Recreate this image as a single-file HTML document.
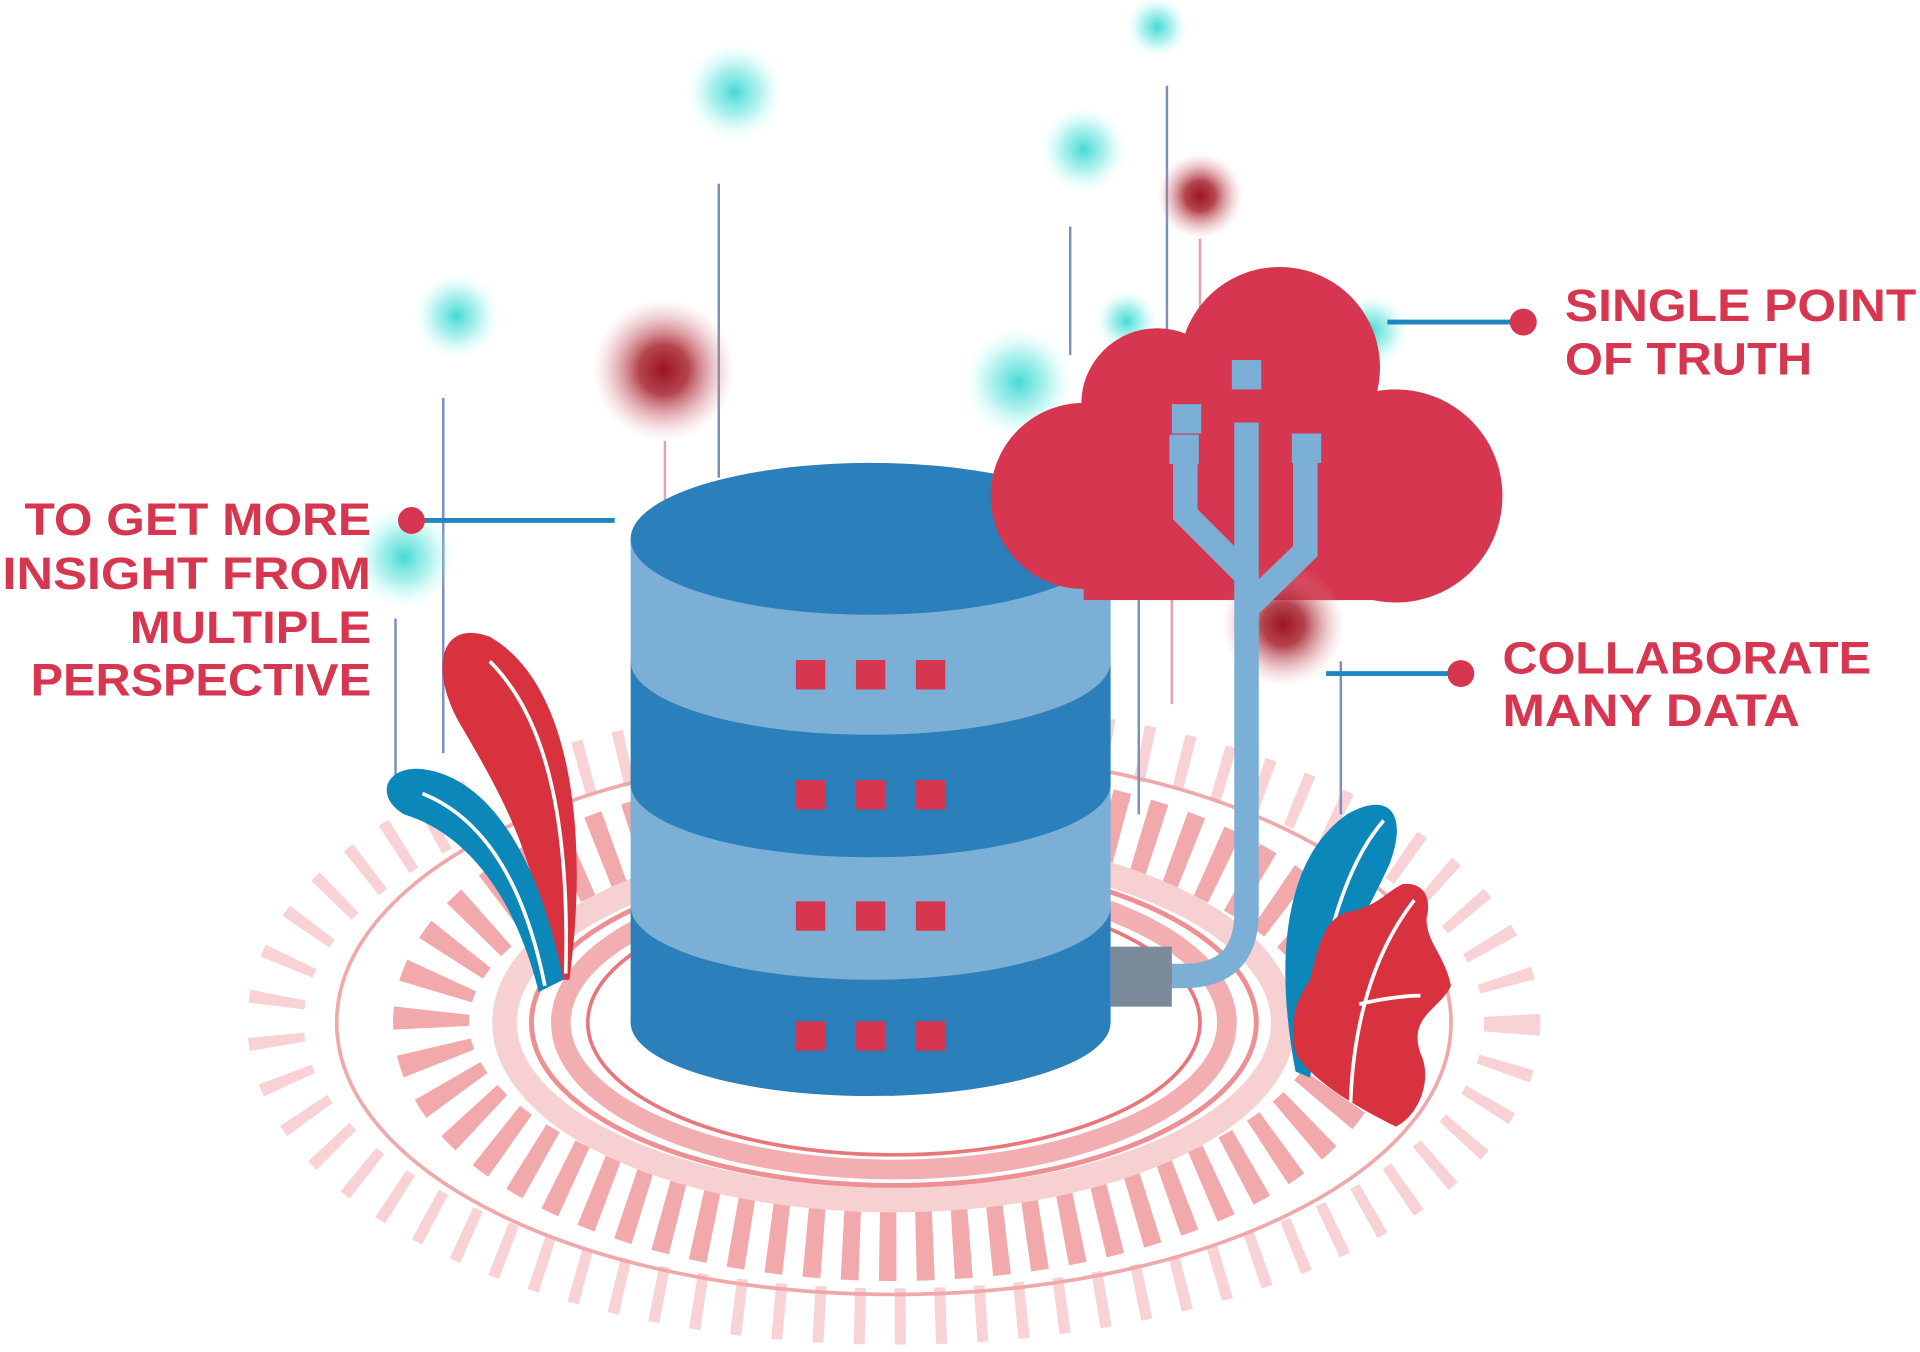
<!DOCTYPE html>
<html><head><meta charset="utf-8"><style>
html,body{margin:0;padding:0;background:#fff;width:1920px;height:1352px;overflow:hidden}
svg{display:block}
text{font-family:"Liberation Sans",sans-serif;font-weight:bold;fill:#d6364f;font-size:37px}
</style></head><body>
<svg width="1920" height="1352" viewBox="0 0 1568 1104" preserveAspectRatio="none">
<defs>
<radialGradient id="c"><stop offset="0" stop-color="#2fd6d0" stop-opacity=".9"/><stop offset=".5" stop-color="#5fe3dc" stop-opacity=".5"/><stop offset="1" stop-color="#bff" stop-opacity="0"/></radialGradient>
<radialGradient id="r"><stop offset="0" stop-color="#9a1420"/><stop offset=".35" stop-color="#a82330" stop-opacity=".85"/><stop offset="1" stop-color="#e8a0a8" stop-opacity="0"/></radialGradient>
</defs>
<!-- rings -->
<g fill="none">
<ellipse cx="730" cy="835" rx="505" ry="240" stroke="#f8d2d4" stroke-width="46" stroke-dasharray="9 24"/>
<ellipse cx="730" cy="835" rx="455" ry="222" stroke="#f0a8aa" stroke-width="3"/>
<ellipse cx="730" cy="835" rx="378" ry="180" stroke="#f2a9ac" stroke-width="62" stroke-dasharray="14 16"/>
<ellipse cx="730" cy="835" rx="318" ry="145" stroke="#f7d0d2" stroke-width="20"/>
<ellipse cx="730" cy="835" rx="296" ry="133" stroke="#ee8f93" stroke-width="4"/>
<ellipse cx="730" cy="835" rx="272" ry="120" stroke="#f2aeb0" stroke-width="16"/>
<ellipse cx="730" cy="835" rx="250" ry="108" stroke="#e8767b" stroke-width="3"/>
</g>
<!-- vertical lines -->
<g stroke="#7a8fc0" stroke-width="2">
<line x1="587" y1="150" x2="587" y2="390"/><line x1="362" y1="325" x2="362" y2="615"/>
<line x1="323" y1="505" x2="323" y2="640"/><line x1="874" y1="185" x2="874" y2="290"/>
<line x1="953" y1="70" x2="953" y2="270"/><line x1="930" y1="490" x2="930" y2="665"/>
<line x1="1095" y1="540" x2="1095" y2="665"/><line x1="543" y1="360" x2="543" y2="410" stroke="#e8a0a8"/>
<line x1="980" y1="195" x2="980" y2="270" stroke="#e8a0a8"/><line x1="957" y1="490" x2="957" y2="575" stroke="#e8a0a8"/>
</g>
<!-- glows -->
<circle cx="600" cy="75" r="40" fill="url(#c)"/><circle cx="945" cy="22" r="25" fill="url(#c)"/>
<circle cx="885" cy="122" r="35" fill="url(#c)"/><circle cx="373" cy="258" r="35" fill="url(#c)"/>
<circle cx="920" cy="262" r="25" fill="url(#c)"/><circle cx="832" cy="312" r="45" fill="url(#c)"/>
<circle cx="330" cy="455" r="42" fill="url(#c)"/><circle cx="1120" cy="270" r="30" fill="url(#c)"/>
<circle cx="542" cy="302" r="58" fill="url(#r)"/><circle cx="980" cy="160" r="35" fill="url(#r)"/>
<!-- connectors -->
<g stroke="#1f86bf" stroke-width="4"><line x1="336" y1="425" x2="502" y2="425"/><line x1="1133" y1="263" x2="1244" y2="263"/><line x1="1083" y1="550" x2="1193" y2="550"/></g>
<g fill="#d6364f"><circle cx="336" cy="425" r="11"/><circle cx="1244" cy="263" r="11"/><circle cx="1193" cy="550" r="11"/></g>
<!-- text -->
<text x="20" y="437" textLength="283" lengthAdjust="spacingAndGlyphs">TO GET MORE</text>
<text x="2" y="481" textLength="301" lengthAdjust="spacingAndGlyphs">INSIGHT FROM</text>
<text x="106" y="525" textLength="197" lengthAdjust="spacingAndGlyphs">MULTIPLE</text>
<text x="25" y="568" textLength="278" lengthAdjust="spacingAndGlyphs">PERSPECTIVE</text>
<text x="1278" y="262" textLength="287" lengthAdjust="spacingAndGlyphs">SINGLE POINT</text>
<text x="1278" y="306" textLength="202" lengthAdjust="spacingAndGlyphs">OF TRUTH</text>
<text x="1227" y="550" textLength="301" lengthAdjust="spacingAndGlyphs">COLLABORATE</text>
<text x="1227" y="593" textLength="243" lengthAdjust="spacingAndGlyphs">MANY DATA</text>
<!-- left leaves -->
<path d="M465 800 C480 690 470 560 400 520 C360 505 350 545 375 590 C410 650 440 700 450 800 Z" fill="#d8323f"/>
<path d="M400 540 C450 590 465 680 462 795" stroke="#fff" stroke-width="3" fill="none"/>
<path d="M440 810 C420 730 380 680 330 665 C305 650 315 625 345 628 C400 635 440 700 460 800 Z" fill="#0b87b9"/>
<path d="M345 648 C400 670 430 730 445 805" stroke="#fff" stroke-width="3" fill="none"/>
<!-- cylinder -->
<g>
<rect x="515" y="740" width="392" height="95" fill="#2b7fba"/><ellipse cx="711" cy="835" rx="196" ry="60" fill="#2b7fba"/>
<rect x="515" y="640" width="392" height="100" fill="#7bafd6"/><ellipse cx="711" cy="740" rx="196" ry="60" fill="#7bafd6"/>
<rect x="515" y="540" width="392" height="100" fill="#2b7fba"/><ellipse cx="711" cy="640" rx="196" ry="60" fill="#2b7fba"/>
<rect x="515" y="440" width="392" height="100" fill="#7bafd6"/><ellipse cx="711" cy="540" rx="196" ry="60" fill="#7bafd6"/>
<ellipse cx="711" cy="440" rx="196" ry="62" fill="#2b7fba"/>
</g>
<g fill="#d6364f">
<rect x="650" y="539" width="24" height="24"/><rect x="699" y="539" width="24" height="24"/><rect x="748" y="539" width="24" height="24"/>
<rect x="650" y="637" width="24" height="24"/><rect x="699" y="637" width="24" height="24"/><rect x="748" y="637" width="24" height="24"/>
<rect x="650" y="736" width="24" height="24"/><rect x="699" y="736" width="24" height="24"/><rect x="748" y="736" width="24" height="24"/>
<rect x="650" y="834" width="24" height="24"/><rect x="699" y="834" width="24" height="24"/><rect x="748" y="834" width="24" height="24"/>
</g>
<!-- cloud -->
<g fill="#d6364f">
<circle cx="1045" cy="300" r="82"/><circle cx="945" cy="330" r="62"/><circle cx="885" cy="405" r="76"/><circle cx="1140" cy="405" r="87"/>
<rect x="885" y="320" width="255" height="170"/>
</g>
<circle cx="1048" cy="510" r="50" fill="url(#r)"/>
<!-- pipe & icon -->
<g fill="none" stroke="#7bafd6" stroke-width="20">
<path d="M1018 345 V745 Q1018 797 966 797 H955"/>
<path d="M968 355 V420 L1015 467"/><path d="M1066 355 V450 L1020 495"/>
</g>
<g fill="#7bafd6"><rect x="1006" y="294" width="24" height="24"/><rect x="957" y="330" width="24" height="24"/><rect x="1055" y="354" width="24" height="24"/><rect x="955" y="355" width="24" height="24"/></g>
<rect x="907" y="773" width="50" height="49" fill="#7a8a9a"/>
<!-- right leaves -->
<path d="M1058 875 C1040 780 1050 700 1100 665 C1135 645 1150 665 1135 705 C1110 760 1080 800 1070 880 Z" fill="#0b87b9"/>
<path d="M1130 670 C1095 710 1075 790 1070 870" stroke="#fff" stroke-width="3" fill="none"/>
<path d="M1140 920 C1160 910 1170 880 1160 860 C1150 830 1175 825 1185 805 C1180 780 1165 770 1165 750 C1170 730 1160 720 1145 722 C1130 730 1125 740 1100 745 C1080 750 1075 780 1070 800 C1060 815 1052 830 1058 860 C1070 880 1100 900 1140 920Z" fill="#d8323f"/>
<path d="M1155 735 C1120 780 1105 840 1103 900 M1110 820 C1130 815 1150 813 1160 813" stroke="#fff" stroke-width="3" fill="none"/>
</svg>
</body></html>
